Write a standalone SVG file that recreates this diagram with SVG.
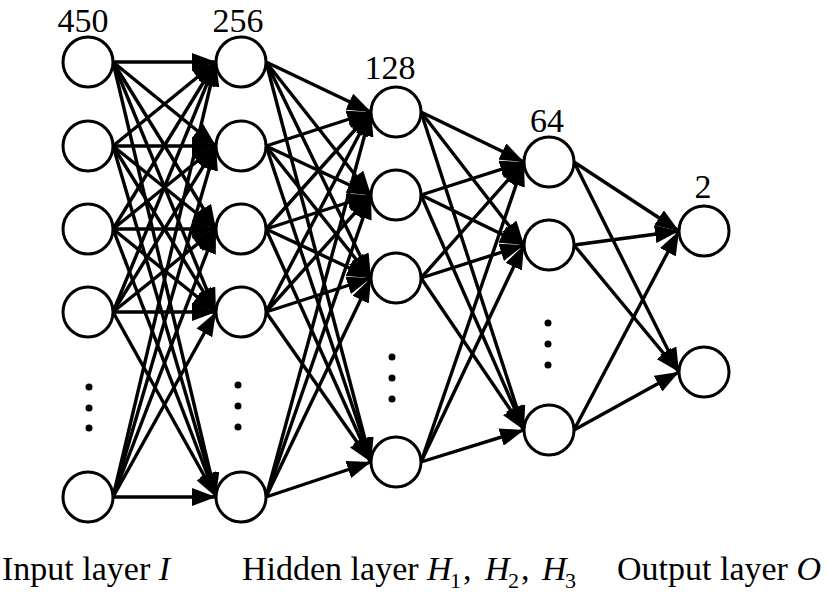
<svg xmlns="http://www.w3.org/2000/svg" width="827" height="595" viewBox="0 0 827 595">
<style>
.n{fill:#fff;stroke:#000;stroke-width:3}
.c line{stroke:#000;stroke-width:3.4;marker-end:url(#ah)}
.t{font-size:34px;fill:#000}
.d{fill:#000}
</style>
<defs>
<marker id="ah" markerUnits="userSpaceOnUse" markerWidth="24" markerHeight="18" refX="24" refY="9" orient="auto" viewBox="0 0 24 18">
<path d="M0,0 L24,9 L0,18 Z" fill="#000"/>
</marker>
</defs>
<rect width="827" height="595" fill="#fff"/>
<g id="connectors" class="c">
<line x1="113" y1="62" x2="216" y2="62"/><line x1="113" y1="62" x2="216" y2="146"/><line x1="113" y1="62" x2="216" y2="229"/><line x1="113" y1="62" x2="216" y2="312"/><line x1="113" y1="62" x2="216" y2="497"/>
<line x1="113" y1="146" x2="216" y2="62"/><line x1="113" y1="146" x2="216" y2="146"/><line x1="113" y1="146" x2="216" y2="229"/><line x1="113" y1="146" x2="216" y2="312"/><line x1="113" y1="146" x2="216" y2="497"/>
<line x1="113" y1="229" x2="216" y2="62"/><line x1="113" y1="229" x2="216" y2="146"/><line x1="113" y1="229" x2="216" y2="229"/><line x1="113" y1="229" x2="216" y2="312"/><line x1="113" y1="229" x2="216" y2="497"/>
<line x1="113" y1="312" x2="216" y2="62"/><line x1="113" y1="312" x2="216" y2="146"/><line x1="113" y1="312" x2="216" y2="229"/><line x1="113" y1="312" x2="216" y2="312"/><line x1="113" y1="312" x2="216" y2="497"/>
<line x1="113" y1="497" x2="216" y2="62"/><line x1="113" y1="497" x2="216" y2="146"/><line x1="113" y1="497" x2="216" y2="229"/><line x1="113" y1="497" x2="216" y2="312"/><line x1="113" y1="497" x2="216" y2="497"/>
<line x1="266" y1="62" x2="371" y2="112"/><line x1="266" y1="62" x2="371" y2="195"/><line x1="266" y1="62" x2="371" y2="278"/><line x1="266" y1="62" x2="371" y2="462"/>
<line x1="266" y1="146" x2="371" y2="112"/><line x1="266" y1="146" x2="371" y2="195"/><line x1="266" y1="146" x2="371" y2="278"/><line x1="266" y1="146" x2="371" y2="462"/>
<line x1="266" y1="229" x2="371" y2="112"/><line x1="266" y1="229" x2="371" y2="195"/><line x1="266" y1="229" x2="371" y2="278"/><line x1="266" y1="229" x2="371" y2="462"/>
<line x1="266" y1="312" x2="371" y2="112"/><line x1="266" y1="312" x2="371" y2="195"/><line x1="266" y1="312" x2="371" y2="278"/><line x1="266" y1="312" x2="371" y2="462"/>
<line x1="266" y1="497" x2="371" y2="112"/><line x1="266" y1="497" x2="371" y2="195"/><line x1="266" y1="497" x2="371" y2="278"/><line x1="266" y1="497" x2="371" y2="462"/>
<line x1="421" y1="112" x2="524" y2="162"/><line x1="421" y1="112" x2="524" y2="245"/><line x1="421" y1="112" x2="524" y2="430"/>
<line x1="421" y1="195" x2="524" y2="162"/><line x1="421" y1="195" x2="524" y2="245"/><line x1="421" y1="195" x2="524" y2="430"/>
<line x1="421" y1="278" x2="524" y2="162"/><line x1="421" y1="278" x2="524" y2="245"/><line x1="421" y1="278" x2="524" y2="430"/>
<line x1="421" y1="462" x2="524" y2="162"/><line x1="421" y1="462" x2="524" y2="245"/><line x1="421" y1="462" x2="524" y2="430"/>
<line x1="574" y1="162" x2="679" y2="231"/><line x1="574" y1="162" x2="679" y2="372"/>
<line x1="574" y1="245" x2="679" y2="231"/><line x1="574" y1="245" x2="679" y2="372"/>
<line x1="574" y1="430" x2="679" y2="231"/><line x1="574" y1="430" x2="679" y2="372"/>
</g>
<g id="input-layer">
<circle class="n" cx="88" cy="62" r="25"/><circle class="n" cx="88" cy="146" r="25"/><circle class="n" cx="88" cy="229" r="25"/><circle class="n" cx="88" cy="312" r="25"/><circle class="n" cx="88" cy="497" r="25"/>
<circle class="d" cx="89" cy="387" r="3.5"/><circle class="d" cx="89" cy="408" r="3.5"/><circle class="d" cx="89" cy="428" r="3.5"/>
<text class="t" font-family="Liberation Serif, Times New Roman, serif" x="83" y="32" text-anchor="middle">450</text>
</g>
<g id="hidden-layer-1">
<circle class="n" cx="241" cy="62" r="25"/><circle class="n" cx="241" cy="146" r="25"/><circle class="n" cx="241" cy="229" r="25"/><circle class="n" cx="241" cy="312" r="25"/><circle class="n" cx="241" cy="497" r="25"/>
<circle class="d" cx="238" cy="385" r="3.5"/><circle class="d" cx="238" cy="406" r="3.5"/><circle class="d" cx="238" cy="427" r="3.5"/>
<text class="t" font-family="Liberation Serif, Times New Roman, serif" x="238" y="32" text-anchor="middle">256</text>
</g>
<g id="hidden-layer-2">
<circle class="n" cx="396" cy="112" r="25"/><circle class="n" cx="396" cy="195" r="25"/><circle class="n" cx="396" cy="278" r="25"/><circle class="n" cx="396" cy="462" r="25"/>
<circle class="d" cx="392" cy="357" r="3.5"/><circle class="d" cx="392" cy="378" r="3.5"/><circle class="d" cx="392" cy="399" r="3.5"/>
<text class="t" font-family="Liberation Serif, Times New Roman, serif" x="390" y="79" text-anchor="middle">128</text>
</g>
<g id="hidden-layer-3">
<circle class="n" cx="549" cy="162" r="25"/><circle class="n" cx="549" cy="245" r="25"/><circle class="n" cx="549" cy="430" r="25"/>
<circle class="d" cx="548" cy="323" r="3.5"/><circle class="d" cx="548" cy="344" r="3.5"/><circle class="d" cx="548" cy="365" r="3.5"/>
<text class="t" font-family="Liberation Serif, Times New Roman, serif" x="547" y="132" text-anchor="middle">64</text>
</g>
<g id="output-layer">
<circle class="n" cx="704" cy="231" r="25"/><circle class="n" cx="704" cy="372" r="25"/>
<text class="t" font-family="Liberation Serif, Times New Roman, serif" x="703" y="198" text-anchor="middle">2</text>
</g>
<g id="labels">
<text class="t" font-family="Liberation Serif, Times New Roman, serif" x="2" y="580">Input layer <tspan font-style="italic">I</tspan></text>
<text class="t" font-family="Liberation Serif, Times New Roman, serif" x="242" y="580">Hidden layer <tspan x="427" font-style="italic">H</tspan><tspan x="450" dy="8" font-size="22">1</tspan><tspan x="463" dy="-8">,</tspan><tspan x="485" font-style="italic">H</tspan><tspan x="508" dy="8" font-size="22">2</tspan><tspan x="521" dy="-8">,</tspan><tspan x="542" font-style="italic">H</tspan><tspan x="565" dy="8" font-size="22">3</tspan></text>
<text class="t" font-family="Liberation Serif, Times New Roman, serif" x="617" y="580">Output layer <tspan font-style="italic">O</tspan></text>
</g>
</svg>
